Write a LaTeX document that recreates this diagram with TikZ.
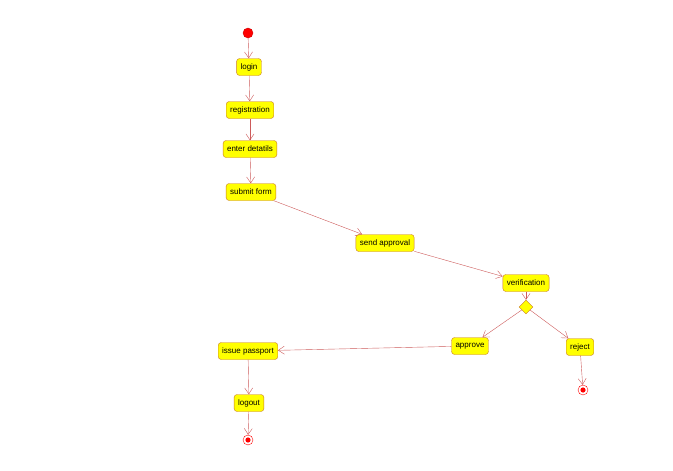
\documentclass[tikz,border=0pt]{standalone}
\usepackage{fontspec}
\setmainfont{Liberation Sans}
\usetikzlibrary{shapes.geometric,arrows.meta}
\definecolor{lnc}{RGB}{205,90,90}
\definecolor{brd}{RGB}{200,120,40}
\definecolor{yel}{RGB}{255,255,0}
\tikzset{
 act/.style={draw=brd,fill=yel,rounded corners=3pt,minimum height=17pt,inner xsep=4pt,inner ysep=2pt,font=\fontsize{8}{9}\selectfont},
 flow/.style={draw=lnc,-{Straight Barb[length=6pt,width=8pt]}},
 startn/.style={circle,fill=red,draw=red!80!black,minimum size=10pt,inner sep=0pt},
 endn/.style={circle,draw=red,fill=white,minimum size=10pt,inner sep=0pt,path picture={\fill[red] (path picture bounding box.center) circle (2.6pt);}},
 dec/.style={diamond,draw=brd,fill=yel,minimum size=14pt,inner sep=0pt}
}
\begin{document}
\begin{tikzpicture}[x=1pt,y=-1pt]
\useasboundingbox (0,0) rectangle (673,471);
\node[startn] (s) at (248,33) {};
\node[act] (login) at (249,67) {login};
\node[act] (reg) at (250,110) {registration};
\node[act] (ent) at (250,149) {enter detatils};
\node[act] (sub) at (251,192) {submit form};
\node[act] (send) at (385,243) {send approval};
\node[act] (ver) at (526,283) {verification};
\node[dec] (d) at (526,307) {};
\node[act] (app) at (470,346) {approve};
\node[act] (rej) at (580,347) {reject};
\node[act] (iss) at (248,351) {issue passport};
\node[act] (lo) at (249,403) {logout};
\node[endn] (e1) at (583,390) {};
\node[endn] (e2) at (248,440) {};
\draw[flow] (s) -- (login);
\draw[flow] (login) -- (reg);
\draw[flow] (reg) -- (ent);
\draw[flow] (ent) -- (sub);
\draw[flow] (sub) -- (send);
\draw[flow] (send) -- (ver);
\draw[flow] (ver) -- (d);
\draw[flow] (d) -- (app);
\draw[flow] (d) -- (rej);
\draw[flow] (app) -- (iss);
\draw[flow] (iss) -- (lo);
\draw[flow] (lo) -- (e2);
\draw[flow] (rej) -- (e1);
\end{tikzpicture}
\end{document}
